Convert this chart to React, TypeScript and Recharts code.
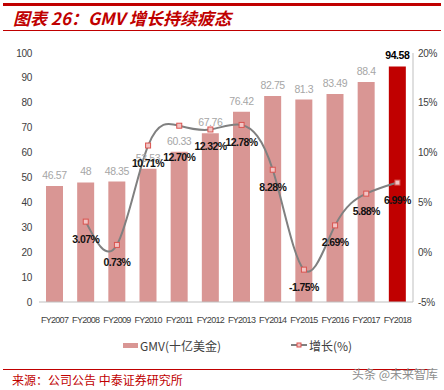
import React from "react";
import { Bar, Cell, ComposedChart, LabelList, Line, XAxis, YAxis } from "recharts";

const years = [
  "FY2007", "FY2008", "FY2009", "FY2010", "FY2011", "FY2012",
  "FY2013", "FY2014", "FY2015", "FY2016", "FY2017", "FY2018",
];
const gmv = [46.57, 48, 48.35, 53.53, 60.33, 67.76, 76.42, 82.75, 81.3, 83.49, 88.4, 94.58];
const growth = [null, 3.07, 0.73, 10.71, 12.7, 12.32, 12.78, 8.28, -1.75, 2.69, 5.88, 6.99];
const leftTicks = [0, 10, 20, 30, 40, 50, 60, 70, 80, 90, 100];
const rightTicks = [-5, 0, 5, 10, 15, 20];

const data = years.map((year, i) => ({ year, gmv: gmv[i], growth: growth[i] }));

const RED = "#c00000";
const PINK = "#d99694";
const CJK = '"Noto Sans CJK SC", "Liberation Sans", sans-serif';
const SANS = '"Liberation Sans", Arial, sans-serif';

function SquareDot(props: any) {
  const { cx, cy, value } = props;
  if (value == null || cx == null || cy == null) return null;
  return (
    <rect x={cx - 2.5} y={cy - 2.5} width={5} height={5} fill="#f2c4c4" stroke="#d9534f" strokeWidth={1} />
  );
}

function GmvLabel(props: any) {
  const { x, y, width, value, index } = props;
  const last = index === gmv.length - 1;
  return (
    <text
      x={x + width / 2}
      y={y - 11}
      textAnchor="middle"
      dominantBaseline="central"
      fontSize={10.5}
      fontFamily={SANS}
      letterSpacing={-0.4}
      fontWeight={last ? "bold" : "normal"}
      fill={last ? "#000" : "#a6a6a6"}
    >
      {value}
    </text>
  );
}

function GrowthLabel(props: any) {
  const { x, y, value, index } = props;
  if (value == null) return null;
  // FY2011 label sits lower in the original, clear of the curve
  const dy = index === 4 ? 31 : 17;
  return (
    <text
      x={x}
      y={y + dy}
      textAnchor="middle"
      dominantBaseline="central"
      fontSize={10.5}
      fontFamily={SANS}
      letterSpacing={-0.6}
      fontWeight="bold"
      fill="#111"
    >
      {value.toFixed(2)}%
    </text>
  );
}

export default function App() {
  return (
    <div style={{ position: "absolute", left: 0, top: 0, width: 444, height: 390, background: "#fff", overflow: "hidden" }}>
      <div style={{ position: "absolute", left: 3, right: 3, top: 3, height: 3, background: RED }} />
      <div
        style={{
          position: "absolute",
          left: 13,
          top: 6,
          fontFamily: CJK,
          fontSize: 17,
          fontWeight: "bold",
          fontStyle: "italic",
          color: RED,
          lineHeight: "24px",
          whiteSpace: "nowrap",
        }}
      >
        图表 26：GMV 增长持续疲态
      </div>
      <div style={{ position: "absolute", left: 3, right: 3, top: 30, height: 1, background: RED }} />

      <div style={{ position: "absolute", left: 0, top: 0 }}>
        <ComposedChart width={444} height={340} data={data} margin={{ top: 53, right: 0, bottom: 8, left: 0 }}>
          <XAxis
            dataKey="year"
            axisLine={{ stroke: "#bfbfbf" }}
            tickLine={false}
            tickMargin={9}
            height={30}
            interval={0}
            tick={{ fontSize: 9, fill: "#404040", fontFamily: SANS, letterSpacing: -0.7 }}
          />
          <YAxis
            yAxisId="left"
            domain={[0, 100]}
            ticks={leftTicks}
            axisLine={false}
            tickLine={false}
            tickSize={0}
            tickMargin={7}
            width={39}
            tick={{ fontSize: 10, fill: "#404040", fontFamily: SANS, letterSpacing: -0.3 }}
          />
          <YAxis
            yAxisId="right"
            orientation="right"
            domain={[-5, 20]}
            ticks={rightTicks}
            tickFormatter={(v: number) => `${v}%`}
            axisLine={{ stroke: "#bfbfbf" }}
            tickLine={false}
            tickSize={0}
            tickMargin={5}
            width={31}
            tick={{ fontSize: 10, fill: "#404040", fontFamily: SANS, letterSpacing: -0.3 }}
          />
          <Bar yAxisId="left" dataKey="gmv" barSize={17} isAnimationActive={false}>
            {data.map((d, i) => (
              <Cell key={d.year} fill={i === data.length - 1 ? RED : PINK} />
            ))}
            <LabelList dataKey="gmv" content={GmvLabel} />
          </Bar>
          <Line
            yAxisId="right"
            type="natural"
            dataKey="growth"
            stroke="#808080"
            strokeWidth={2}
            dot={SquareDot}
            activeDot={false}
            isAnimationActive={false}
          >
            <LabelList dataKey="growth" content={GrowthLabel} />
          </Line>
        </ComposedChart>
      </div>

      {/* legend */}
      <div style={{ position: "absolute", left: 123, top: 337, height: 16, display: "flex", alignItems: "center", fontFamily: CJK, fontSize: 12, color: "#404040" }}>
        <span style={{ display: "inline-block", width: 15, height: 5, background: PINK, marginRight: 2 }} />
        GMV(十亿美金)
      </div>
      <div style={{ position: "absolute", left: 291, top: 337, height: 16, display: "flex", alignItems: "center", fontFamily: CJK, fontSize: 12, color: "#404040" }}>
        <svg width={16} height={8} style={{ marginRight: 2 }}>
          <line x1={0} y1={4} x2={16} y2={4} stroke="#808080" strokeWidth={2} />
          <rect x={6} y={2} width={4} height={4} fill="#f2c4c4" stroke="#d9534f" strokeWidth={1} />
        </svg>
        增长(%)
      </div>

      <div style={{ position: "absolute", left: 3, width: 427, top: 369, height: 1, background: RED }} />
      <div style={{ position: "absolute", left: 12, top: 371, fontFamily: CJK, fontSize: 12, color: RED, lineHeight: "18px", whiteSpace: "nowrap" }}>
        来源：公司公告 中泰证券研究所
      </div>
      <div style={{ position: "absolute", left: 352, top: 365, fontFamily: CJK, fontSize: 12, color: "#8c8c8c", lineHeight: "18px", whiteSpace: "nowrap" }}>
        头条 @未来智库
      </div>
    </div>
  );
}
